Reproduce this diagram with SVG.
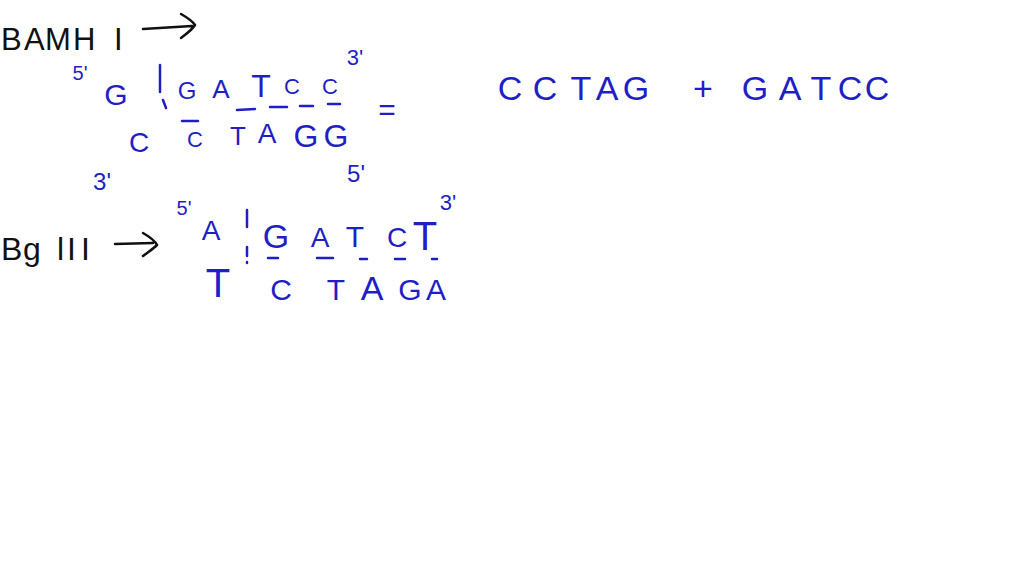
<svg xmlns="http://www.w3.org/2000/svg" width="1024" height="576" viewBox="0 0 1024 576">
<style>
.ink{fill:#1f1fc4;font-family:"Liberation Sans",Arial,sans-serif;text-anchor:middle}
.blk{fill:#111;font-family:"Liberation Sans",Arial,sans-serif}
.bl{stroke:#1f1fc4;stroke-width:2.5;stroke-linecap:round;fill:none}
.kl{stroke:#111;stroke-width:2.5;stroke-linecap:round;stroke-linejoin:round;fill:none}
</style>
<rect width="1024" height="576" fill="#fff"/>
<g id="bamhi">
<text class="blk" font-size="31" x="1 24 45 73 114" y="50">BAMHI</text>
<path class="kl" d="M143,29 L192,26 M181,14 C188,18 193,22 195,25 C192,30 186,34 181,38"/>
<text class="ink" font-size="20" x="80" y="80">5'</text>
<text class="ink" font-size="22" x="355" y="65">3'</text>
<text class="ink" font-size="30" x="116" y="105">G</text>
<line class="bl" x1="160" y1="65" x2="160" y2="92"/>
<text class="ink" font-size="24" x="187" y="99">G</text>
<text class="ink" font-size="26" x="221" y="98">A</text>
<text class="ink" font-size="32" x="261" y="97">T</text>
<text class="ink" font-size="22" x="292" y="94">C</text>
<text class="ink" font-size="22" x="330" y="94">C</text>
<path class="bl" d="M237,110 L255,109 M270,107 L287,107 M300,106 L313,106 M328,104 L340,104 M163,100 L166,108 M182,121 L198,121"/>
<text class="ink" font-size="28" x="139" y="152">C</text>
<text class="ink" font-size="22" x="195" y="147">C</text>
<text class="ink" font-size="26" x="238" y="145">T</text>
<text class="ink" font-size="28" x="267" y="143">A</text>
<text class="ink" font-size="32" x="306" y="147">G</text>
<text class="ink" font-size="32" x="336" y="147">G</text>
<text class="ink" font-size="30" x="387" y="120">=</text>
<text class="ink" font-size="24" x="102" y="190">3'</text>
<text class="ink" font-size="24" x="356" y="182">5'</text>
</g>
<g id="products">
<text class="ink" font-size="34" x="510 545 581 607 636 703 755 790 821 850 877" y="100">CCTAG+GATCC</text>
</g>
<g id="bglii">
<text class="blk" font-size="32" x="1 23 57 67 81" y="260">BglII</text>
<path class="kl" d="M115,244 L153,243 M143,233 C150,237 155,241 157,245 C153,249 148,252 143,256"/>
<text class="ink" font-size="20" x="184" y="215">5'</text>
<text class="ink" font-size="22" x="448" y="210">3'</text>
<text class="ink" font-size="28" x="211" y="240">A</text>
<path class="bl" d="M247,210 L247,227 M247,247 L247,256 M247,262 L247,263"/>
<text class="ink" font-size="34" x="276" y="248">G</text>
<text class="ink" font-size="28" x="320" y="247">A</text>
<text class="ink" font-size="30" x="355" y="247">T</text>
<text class="ink" font-size="28" x="397" y="247">C</text>
<text class="ink" font-size="40" x="425" y="250">T</text>
<path class="bl" d="M268,258 L278,258 M317,258 L333,258 M360,259 L367,259 M395,259 L405,259 M432,259 L437,259"/>
<text class="ink" font-size="40" x="218" y="297">T</text>
<text class="ink" font-size="30" x="281" y="300">C</text>
<text class="ink" font-size="30" x="336" y="300">T</text>
<text class="ink" font-size="34" x="372" y="300">A</text>
<text class="ink" font-size="30" x="410" y="300">G</text>
<text class="ink" font-size="30" x="436" y="300">A</text>
</g>
</svg>
